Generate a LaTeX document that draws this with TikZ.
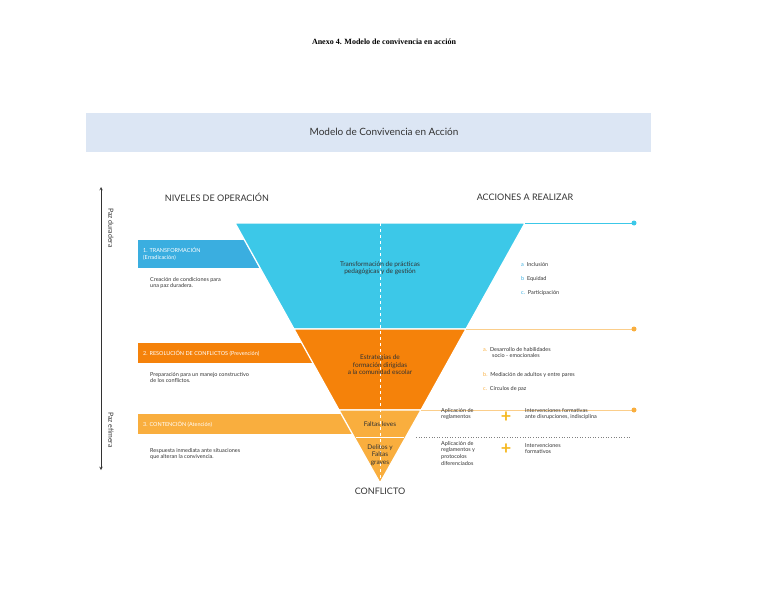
\documentclass[tikz,border=0pt]{standalone}
\usepackage{fontspec}
\setmainfont{Lato}
\newfontfamily\serifb{Liberation Serif}
\definecolor{cy}{HTML}{3CC8E8}
\definecolor{cyd}{HTML}{3AAEE0}
\definecolor{orn}{HTML}{F5820A}
\definecolor{orl}{HTML}{F9AE3E}
\definecolor{band}{HTML}{DCE6F4}
\definecolor{txt}{HTML}{333333}
\definecolor{plus}{HTML}{F5B820}
\tikzset{
  sm/.style={font=\fontsize{5.5}{6.6}\selectfont, text=txt, align=left, anchor=north west, inner sep=0},
  hd/.style={font=\fontsize{9}{10}\selectfont, text=txt},
  boxt/.style={font=\fontsize{5.5}{6.6}\selectfont, text=white, align=left, anchor=west, inner sep=0},
  tri/.style={draw=white, line width=1.3},
  act/.style={line width=0.6},
  plusn/.style={font=\bfseries\fontsize{18}{18}\selectfont, text=plus, inner sep=0}
}
\begin{document}
\begin{tikzpicture}[x=1pt,y=-1pt]
\useasboundingbox (0,0) rectangle (768,594);
\node[font=\serifb\bfseries\fontsize{8}{9}\selectfont] (title) at (384,42) {Anexo 4. Modelo de convivencia en acción};
\fill[band] (86,113) rectangle (651,152);
\node[font=\fontsize{10}{11}\selectfont, text=txt] (head) at (384,132) {Modelo de Convivencia en Acción};
% axis
\coordinate (axt) at (101,187); \coordinate (axb) at (101,470);
\draw[<->, >=stealth, txt, line width=0.5] (axt) -- (axb);
\node[rotate=-90, font=\fontsize{7}{8}\selectfont, text=txt] (pd) at (111,228) {Paz duradera};
\node[rotate=-90, font=\fontsize{7}{8}\selectfont, text=txt] (pe) at (111,430) {Paz efímera};
\node[hd] (niv) at (217,197) {NIVELES DE OPERACIÓN};
\node[hd] (acc) at (525,197) {ACCIONES A REALIZAR};
% left boxes
\fill[cyd] (138,240) rectangle (300,268);
\node[boxt] (b1) at (143,254) {1. TRANSFORMACIÓN\\(Erradicación)};
\node[sm] (d1) at (150,277) {Creación de condiciones para\\una paz duradera.};
\fill[orn] (138,343) rectangle (340,363);
\node[boxt] (b2) at (143,353) {2. RESOLUCIÓN DE CONFLICTOS (Prevención)};
\node[sm] (d2) at (150,372) {Preparación para un manejo constructivo\\de los conflictos.};
\fill[orl] (138,414) rectangle (370,434);
\node[boxt] (b3) at (143,424) {3. CONTENCIÓN (Atención)};
\node[sm] (d3) at (150,448) {Respuesta inmediata ante situaciones\\que alteran la convivencia.};
% triangle
\filldraw[tri, fill=cy] (235,223) -- (525,223) -- (466,329) -- (294,329) -- cycle;
\filldraw[tri, fill=orn] (294,329) -- (466,329) -- (421,410) -- (339,410) -- cycle;
\filldraw[tri, fill=orl] (339,410) -- (421,410) -- (380,483) -- cycle;
\draw[white, dashed, line width=0.6] (380,223) -- (380,480);
\draw[white, line width=0.6] (356,437) -- (404,437);
\node[font=\fontsize{6.5}{7.5}\selectfont, text=txt, align=center] (t1) at (380,268) {Transformación de prácticas\\pedagógicas y de gestión};
\node[font=\fontsize{6.5}{7.5}\selectfont, text=txt, align=center] (t2) at (380,365) {Estrategias de\\formación dirigidas\\a la comunidad escolar};
\node[font=\fontsize{6.5}{7.5}\selectfont, text=txt] (t3) at (380,424) {Faltas leves};
\node[font=\fontsize{6.5}{7.5}\selectfont, text=txt, align=center] (t4) at (380,455) {Delitos y\\Faltas\\graves};
\node[font=\fontsize{9}{10}\selectfont, text=txt] (conf) at (380,491) {CONFLICTO};
% right lines
\coordinate (c1) at (525,223); \coordinate (c2) at (466,329); \coordinate (c3) at (421,410);
\coordinate (e1) at (634,223); \coordinate (e2) at (634,329); \coordinate (e3) at (634,410);
\draw[act, cy] (c1) -- (e1); \fill[cy] (e1) circle (2.5);
\draw[act, orl!60] (c2) -- (e2); \fill[orl] (e2) circle (2.5);
\draw[act, orl!60] (c3) -- (e3); \fill[orl] (e3) circle (2.5);
% cyan list
\node[sm] (l1) at (521,262) {\textcolor{cyd}{a}\ \ Inclusión};
\node[sm] (l2) at (521,276) {\textcolor{cyd}{b}\ \ Equidad};
\node[sm] (l3) at (521,290) {\textcolor{cyd}{c.}\ \ Participación};
% orange list
\node[sm] (o1) at (483,347) {\textcolor{orl}{a.}\ \ Desarrollo de habilidades\\\hspace*{9pt}socio - emocionales};
\node[sm] (o2) at (483,372) {\textcolor{orl}{b.}\ \ Mediación de adultos y entre pares};
\node[sm] (o3) at (483,386) {\textcolor{orl}{c.}\ \ Círculos de paz};
% bottom right
\node[sm] (r1) at (441,408) {Aplicación de\\reglamentos};
\node[plusn] (p1) at (506,417) {+};
\node[sm] (r2) at (525,408) {Intervenciones formativas\\ante disrupciones, indisciplina};
\coordinate (dl) at (416,437); \coordinate (dr) at (630,437);
\draw[gray, dotted, line width=0.6] (dl) -- (dr);
\node[sm] (r3) at (441,441) {Aplicación de\\reglamentos y\\protocolos\\diferenciados};
\node[plusn] (p2) at (506,449) {+};
\node[sm] (r4) at (525,443) {Intervenciones\\formativos};
\end{tikzpicture}
\end{document}
